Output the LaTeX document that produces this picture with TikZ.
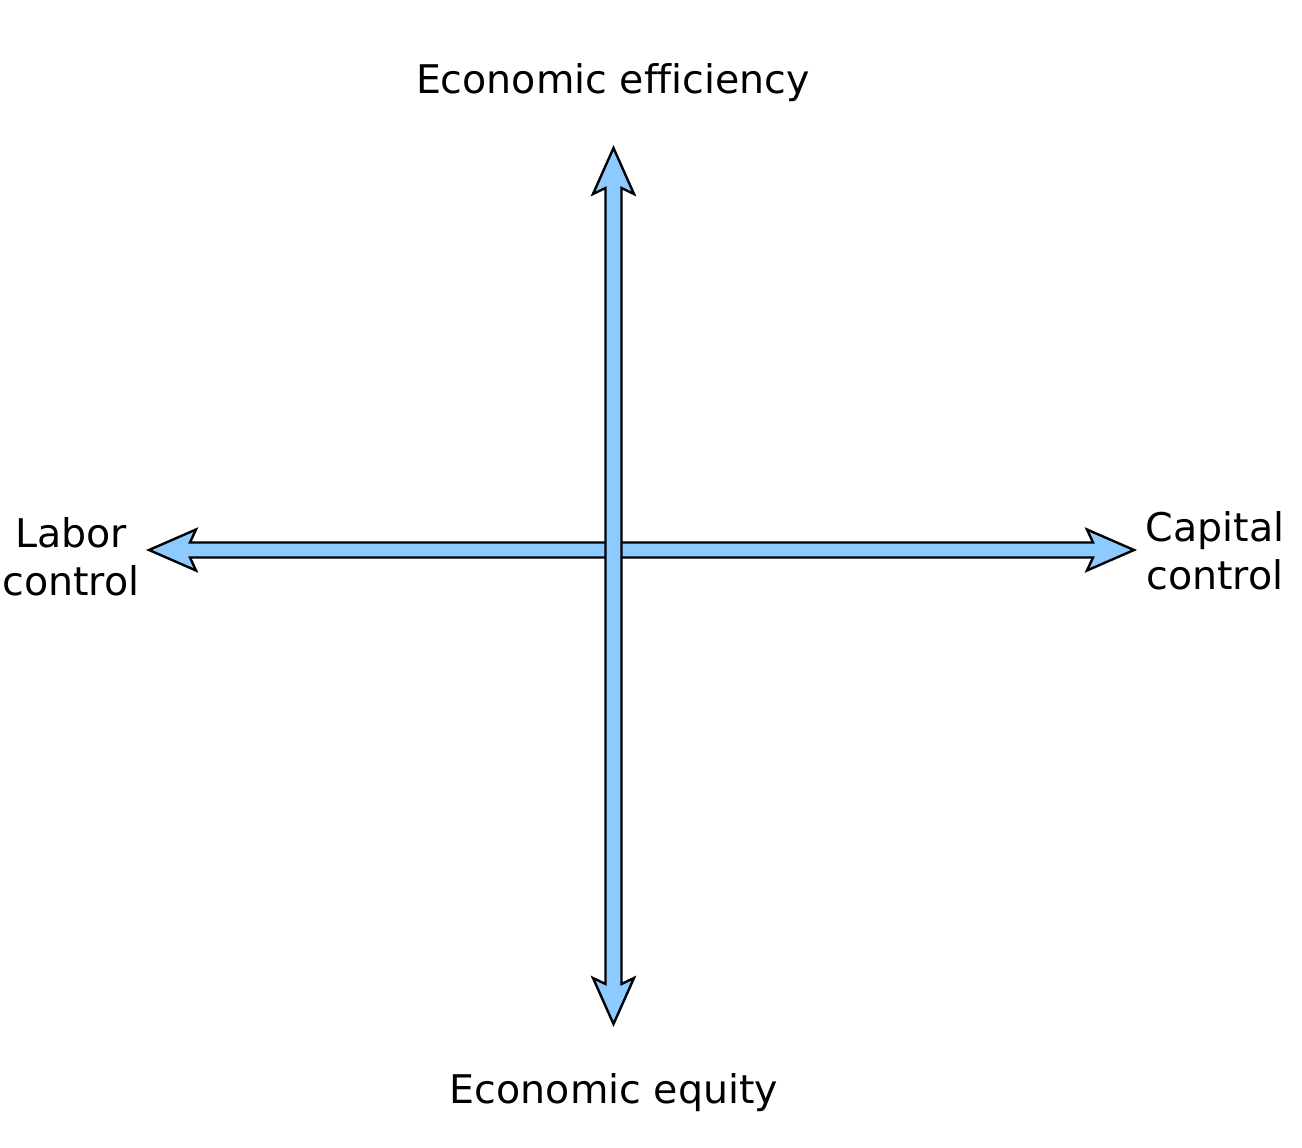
\documentclass[tikz,border=0pt]{standalone}
\usepackage{fontspec}
\setmainfont{DejaVu Sans}[Ligatures=NoCommon]
\definecolor{arrowblue}{RGB}{140,202,255}
\begin{document}
\begin{tikzpicture}[x=1pt,y=-1pt,
  blockarrow/.style={draw=black,line width=2.4pt,fill=arrowblue,line join=miter},
  lbl/.style={inner sep=0pt,font=\fontsize{39.5}{48.5}\selectfont,text=black,align=center}]
\useasboundingbox (0,0) rectangle (1302,1148);
% horizontal double arrow
\draw[blockarrow] (149,550) -- (196,529.5) -- (190,542.5) -- (1093,542.5) -- (1087,529.5)
  -- (1134,550) -- (1087,570.5) -- (1093,557.5) -- (190,557.5) -- (196,570.5) -- cycle;
% vertical double arrow
\draw[blockarrow] (613.5,148) -- (634,194) -- (621.5,188) -- (621.5,984) -- (634,978)
  -- (613.5,1024) -- (593,978) -- (605.5,984) -- (605.5,188) -- (593,194) -- cycle;
% labels
\node[lbl,anchor=base] (top) at (613,94) {Economic efficiency};
\node[lbl,anchor=base] (bottom) at (614,1103) {Economic equity};
\node[lbl,anchor=center] (left) at (71,557) {Labor\\control};
\node[lbl,anchor=center] (right) at (1215,551) {Capital\\control};
\end{tikzpicture}
\end{document}
